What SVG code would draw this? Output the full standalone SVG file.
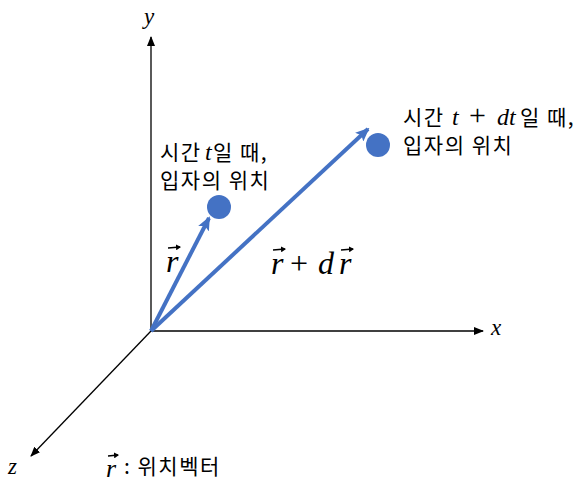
<svg xmlns="http://www.w3.org/2000/svg" width="581" height="489" viewBox="0 0 581 489">
<style>
.ax{stroke:#000;stroke-width:1.3;fill:none}
.vec{stroke:#4472C4;stroke-width:4;fill:none}
.pt{fill:#4472C4}
.kr{font-family:"Noto Sans CJK KR","Noto Sans",sans-serif;font-size:21px;letter-spacing:1.5px;fill:#000}
.m{font-family:"Liberation Serif","DejaVu Serif",serif;font-style:italic;letter-spacing:0;fill:#000}
.op{font-family:"Liberation Serif","DejaVu Serif",serif;letter-spacing:0;fill:#000}
.va{stroke:#000;stroke-width:1.3;fill:none}
</style>
<defs>
<marker id="ah" markerWidth="10" markerHeight="8" refX="9" refY="4" orient="auto" markerUnits="userSpaceOnUse">
<path d="M0,0 L10,4 L0,8 Z" fill="#000"/>
</marker>
<marker id="bh" markerWidth="14" markerHeight="12" refX="12" refY="6" orient="auto" markerUnits="userSpaceOnUse">
<path d="M0,0 L14,6 L0,12 L3,6 Z" fill="#4472C4"/>
</marker>
<marker id="sh" markerWidth="5" markerHeight="6" refX="4" refY="3" orient="auto" markerUnits="userSpaceOnUse">
<path d="M0,0 L5,3 L0,6 Z" fill="#000"/>
</marker>
</defs>
<g id="connectors">
<line class="ax" x1="151" y1="331" x2="151" y2="37" marker-end="url(#ah)"/>
<line class="ax" x1="151" y1="331" x2="483" y2="331" marker-end="url(#ah)"/>
<line class="ax" x1="151" y1="331" x2="31" y2="456" marker-end="url(#ah)"/>
<line class="vec" x1="151" y1="331" x2="209" y2="218" marker-end="url(#bh)"/>
<line class="vec" x1="151" y1="331" x2="368" y2="129" marker-end="url(#bh)"/>
</g>
<g id="axis-labels">
<text class="m" x="144" y="24" font-size="23">y</text>
<text class="m" x="491" y="335" font-size="23">x</text>
<text class="m" x="8" y="474" font-size="23">z</text>
</g>
<g id="p1">
<circle class="pt" cx="219" cy="207" r="12"/>
<text class="kr" x="160" y="160">시간<tspan class="m" x="205" font-size="24">t</tspan><tspan x="213">일 때,</tspan></text>
<text class="kr" x="160" y="188">입자의 위치</text>
</g>
<g id="p2">
<circle class="pt" cx="378" cy="145" r="12"/>
<text class="kr" x="403" y="125">시간<tspan class="m" x="452" font-size="24">t</tspan><tspan class="op" x="469" font-size="30">+</tspan><tspan class="m" x="497" font-size="24">dt</tspan><tspan x="520">일 때,</tspan></text>
<text class="kr" x="403" y="153">입자의 위치</text>
</g>
<g id="vec-labels">
<text class="m" x="166" y="272" font-size="32">r</text>
<path class="va" d="M168,248 L180,247" marker-end="url(#sh)"/>
<text class="m" x="271" y="274" font-size="32">r</text>
<path class="va" d="M273,250 L285,249" marker-end="url(#sh)"/>
<text class="op" x="290" y="274" font-size="32">+</text>
<text class="m" x="318" y="274" font-size="32">d</text>
<text class="m" x="339" y="274" font-size="32">r</text>
<path class="va" d="M341,250 L353,249" marker-end="url(#sh)"/>
</g>
<g id="legend">
<text class="m" x="106" y="477" font-size="26">r</text>
<path class="va" d="M108,456 L118,455" marker-end="url(#sh)"/>
<text class="kr" x="124" y="474" font-size="19">: 위치벡터</text>
</g>
</svg>
